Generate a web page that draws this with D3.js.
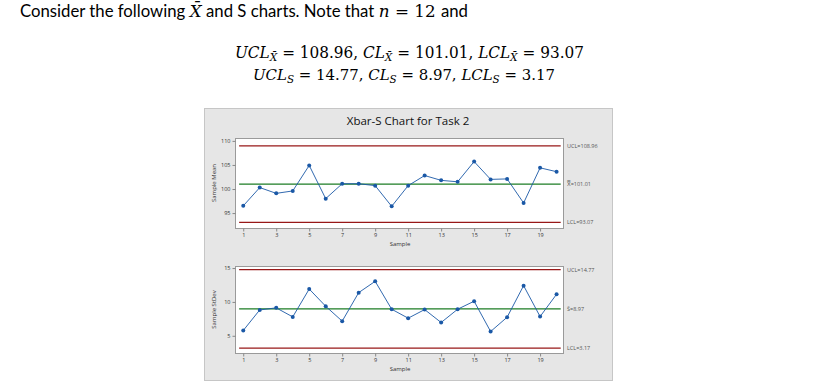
<!DOCTYPE html>
<html>
<head>
  <meta charset="utf-8">
  <title>Xbar-S Chart for Task 2</title>
  <script src="https://d3js.org/d3.v7.min.js"></script>
  <style>
    body { margin: 0; background: #fff; }
    .tick text { font-family: "Open Sans", sans-serif; font-size: 5.5px; fill: #333; }
    .tick line { stroke: #888; }
    .lbl { font-family: "Open Sans", sans-serif; font-size: 6px; fill: #333; }
    .side { font-family: "Open Sans", sans-serif; font-size: 5.5px; fill: #555; }
  </style>
</head>
<body>
<div id="chart"></div>
<script>

// sample numbers and measured statistics per sample
var samples = [1, 2, 3, 4, 5, 6, 7, 8, 9, 10, 11, 12, 13, 14, 15, 16, 17, 18, 19, 20];
var means = [96.5, 100.3, 99.1, 99.6, 104.9, 98.0, 101.1, 101.1, 100.7, 96.4,
             100.7, 102.8, 101.8, 101.5, 105.7, 102.0, 102.1, 97.1, 104.4, 103.6];
var stdevs = [5.78, 8.82, 9.12, 7.79, 11.9, 9.36, 7.16, 11.37, 13.04, 8.92,
              7.6, 8.87, 6.96, 8.92, 10.1, 5.63, 7.74, 12.4, 7.84, 11.13];

// control limits: [UCL, CL, LCL]
var xbarLimits = [108.96, 101.01, 93.07];
var sLimits = [14.77, 8.97, 3.17];

var xTicks = [1, 3, 5, 7, 9, 11, 13, 15, 17, 19];
var meanTicks = [95, 100, 105, 110];
var sdTicks = [5, 10, 15];

var W = 835, H = 386;
var svg = d3.select('#chart').append('svg')
  .attr('width', W).attr('height', H)
  .style('display', 'block');

var serif = '"DejaVu Serif", "Liberation Serif", serif';
var sans = 'Lato, "Open Sans", sans-serif';

// lays out a row of text pieces one after another, then scales the row to fit x0..x1
function textRow(parts, x0, x1, y, baseSize) {
  var g = svg.append('g');
  var cx = 0;
  parts.forEach(function(p) {
    var t = g.append('text')
      .attr('x', cx)
      .attr('y', p.sub ? 3.5 : 0)
      .attr('xml:space', 'preserve')
      .style('white-space', 'pre')
      .style('font-family', p.f || serif)
      .style('font-size', (p.sub ? baseSize * 0.7 : baseSize) + 'px')
      .style('font-style', p.i ? 'italic' : 'normal')
      .attr('fill', '#000')
      .text(p.t);
    cx += t.node().getComputedTextLength();
  });
  var k = (x1 - x0) / cx;
  g.attr('transform', 'translate(' + x0 + ',' + y + ') scale(' + k + ',' + Math.min(1, k * 1.05) + ')');
}

// ---- heading text ----
textRow([
  {t: 'Consider the following ', f: sans},
  {t: 'X\u0304', i: 1},
  {t: ' and S charts. Note that ', f: sans},
  {t: 'n', i: 1},
  {t: ' = 12 ', f: serif},
  {t: 'and', f: sans}
], 20, 468, 17, 16.5);

textRow([
  {t: 'UCL', i: 1}, {t: 'X\u0304', i: 1, sub: 1}, {t: ' = ' + xbarLimits[0] + ', '},
  {t: 'CL', i: 1}, {t: 'X\u0304', i: 1, sub: 1}, {t: ' = ' + xbarLimits[1].toFixed(2) + ', '},
  {t: 'LCL', i: 1}, {t: 'X\u0304', i: 1, sub: 1}, {t: ' = ' + xbarLimits[2]}
], 235, 584, 58, 16.5);

textRow([
  {t: 'UCL', i: 1}, {t: 'S', i: 1, sub: 1}, {t: ' = ' + sLimits[0] + ', '},
  {t: 'CL', i: 1}, {t: 'S', i: 1, sub: 1}, {t: ' = ' + sLimits[1] + ', '},
  {t: 'LCL', i: 1}, {t: 'S', i: 1, sub: 1}, {t: ' = ' + sLimits[2]}
], 253, 555, 80, 16.5);

// ---- chart panel ----
svg.append('rect')
  .attr('x', 204.5).attr('y', 108.5)
  .attr('width', 408).attr('height', 272)
  .attr('fill', '#e6e6e6')
  .attr('stroke', '#c6c6c6');

svg.append('text')
  .attr('x', 408).attr('y', 125)
  .attr('text-anchor', 'middle')
  .style('font-family', '"Open Sans", sans-serif')
  .style('font-size', '11.5px')
  .attr('fill', '#111')
  .text('Xbar-S Chart for Task 2');

var red = '#981818', green = '#1d7d25', blue = '#1a58a6';

function drawChart(cfg) {
  var x = d3.scaleLinear().domain([0.5, 20.45]).range([235, 564]);
  var y = d3.scaleLinear().domain(cfg.domain).range([cfg.bottom, cfg.top]);
  var g = svg.append('g');

  g.append('rect')
    .attr('x', 235.5).attr('y', cfg.top + 0.5)
    .attr('width', 328).attr('height', cfg.bottom - cfg.top)
    .attr('fill', '#fff')
    .attr('stroke', '#9a9a9a');

  var yAxis = g.append('g')
    .attr('transform', 'translate(235.5,0)')
    .call(d3.axisLeft(y).tickValues(cfg.ticks).tickSize(3).tickPadding(2));
  yAxis.select('.domain').remove();

  var xAxis = g.append('g')
    .attr('transform', 'translate(0,' + (cfg.bottom + 0.5) + ')')
    .call(d3.axisBottom(x).tickValues(xTicks).tickSize(3).tickPadding(2));
  xAxis.select('.domain').remove();

  // control limit lines
  var cols = [red, green, red];
  cfg.limits.forEach(function(v, i) {
    g.append('line')
      .attr('x1', x(0.75)).attr('x2', x(20.25))
      .attr('y1', y(v)).attr('y2', y(v))
      .attr('stroke', cols[i])
      .attr('stroke-width', 1.2);
  });

  var line = d3.line()
    .x(function(d, i) { return x(samples[i]); })
    .y(function(d) { return y(d); });

  g.append('path')
    .datum(cfg.values)
    .attr('d', line)
    .attr('fill', 'none')
    .attr('stroke', blue)
    .attr('stroke-width', 0.9);

  g.selectAll('circle.pt')
    .data(cfg.values)
    .enter().append('circle')
      .attr('class', 'pt')
      .attr('cx', function(d, i) { return x(samples[i]); })
      .attr('cy', function(d) { return y(d); })
      .attr('r', 2)
      .attr('fill', blue);

  // right side labels
  cfg.sideLabels.forEach(function(s, i) {
    g.append('text')
      .attr('class', 'side')
      .attr('x', 567)
      .attr('y', y(cfg.limits[i]) + 2)
      .text(s);
  });

  g.append('text')
    .attr('class', 'lbl')
    .attr('text-anchor', 'middle')
    .attr('transform', 'translate(216,' + ((cfg.top + cfg.bottom) / 2) + ') rotate(-90)')
    .text(cfg.ylabel);

  g.append('text')
    .attr('class', 'lbl')
    .attr('text-anchor', 'middle')
    .attr('x', 400).attr('y', cfg.bottom + 18)
    .text('Sample');
}

drawChart({
  values: means, limits: xbarLimits, ticks: meanTicks,
  domain: [91.9, 110.6], top: 138, bottom: 228,
  ylabel: 'Sample Mean',
  sideLabels: ['UCL=' + xbarLimits[0], 'X\u033F=' + xbarLimits[1].toFixed(2), 'LCL=' + xbarLimits[2]]
});

drawChart({
  values: stdevs, limits: sLimits, ticks: sdTicks,
  domain: [2.46, 15.3], top: 266, bottom: 353,
  ylabel: 'Sample StDev',
  sideLabels: ['UCL=' + sLimits[0], 'S\u0304=' + sLimits[1], 'LCL=' + sLimits[2]]
});

</script>
</body>
</html>
